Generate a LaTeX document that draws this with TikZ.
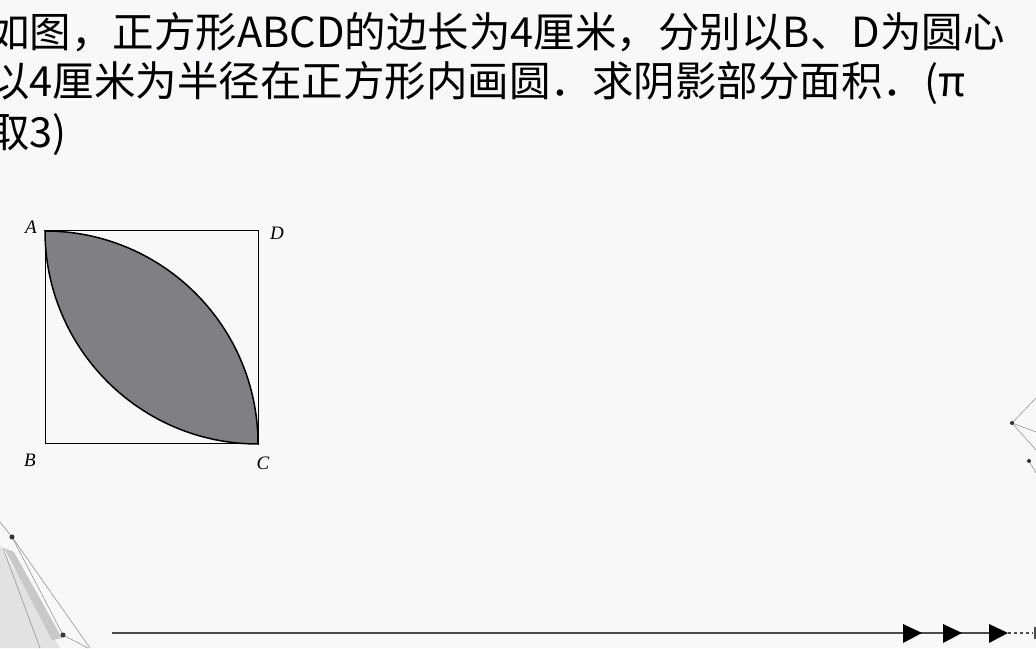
\documentclass[tikz,border=0pt]{standalone}
\usepackage{fontspec}
\setmainfont{Liberation Serif}
\newfontfamily\cjk{Noto Sans CJK SC}
\definecolor{bgc}{RGB}{248,248,250}
\definecolor{lens}{RGB}{128,127,131}
\definecolor{decoA}{RGB}{226,226,228}
\definecolor{decoB}{RGB}{200,200,203}
\definecolor{decoL}{RGB}{150,150,155}
\tikzset{
  qtext/.style={anchor=base west, inner sep=0pt, font=\cjk\fontsize{41.5}{50}\selectfont},
  vlabel/.style={inner sep=0pt, font=\fontsize{19}{19}\selectfont\itshape},
  edge/.style={draw=black, line width=1pt},
  decoline/.style={draw=decoL, line width=0.6pt},
  decodot/.style={circle, fill=black!80, inner sep=0pt, minimum size=5pt},
  tri/.style={fill=black}
}
\begin{document}
\begin{tikzpicture}[x=1pt,y=1pt]
\fill[bgc] (0,0) rectangle (1036,648);
\useasboundingbox (0,0) rectangle (1036,648);
% question text
\node[qtext] (l1) at (-12,600) {如图，正方形ABCD的边长为4厘米，分别以B、D为圆心};
\node[qtext] (l2) at (-12,551) {以4厘米为半径在正方形内画圆．求阴影部分面积．(π};
\node[qtext] (l3) at (-12,500) {取3)};
% square
\coordinate (A) at (45,417);
\coordinate (B) at (45,204);
\coordinate (C) at (258,204);
\coordinate (D) at (258,417);
\fill[lens] (A) arc[start angle=90, end angle=0, radius=213] arc[start angle=270, end angle=180, radius=213] -- cycle;
\draw[line width=1.5pt] (A) arc[start angle=90, end angle=0, radius=213] arc[start angle=270, end angle=180, radius=213] -- cycle;
\draw[edge] (A) -- (D) -- (C) -- (B) -- cycle;
\node[vlabel] (lA) at (31,421) {A};
\node[vlabel] (lD) at (277,415) {D};
\node[vlabel] (lB) at (30,188) {B};
\node[vlabel] (lC) at (263,185) {C};
% bottom-left decoration
\fill[decoA] (0,103) -- (60,0) -- (0,0) -- cycle;
\fill[decoB] (4,100) -- (14,96) -- (62,10) -- (52,8) -- cycle;
\coordinate (p1) at (12,111);
\coordinate (p2) at (63,13);
\draw[decoline] (0,126) -- (p1);
\draw[decoline] (p1) -- (90,0);
\draw[decoline] (p1) -- (p2);
\draw[decoline] (3,100) -- (40,0);
\draw[decoline] (p2) -- (88,0);
\node[decodot] (d1) at (p1) {};
\node[decodot] (d2) at (p2) {};
% right decoration
\coordinate (q1) at (1012,225);
\coordinate (q2) at (1029,187);
\draw[decoline] (q1) -- (1036,250);
\draw[decoline] (q1) -- (1036,216);
\draw[decoline] (q1) -- (1036,198);
\draw[decoline] (q2) -- (1036,175);
\node[decodot, minimum size=4pt] (e1) at (q1) {};
\node[decodot, minimum size=4pt] (e2) at (q2) {};
% bottom arrow line
\coordinate (s) at (112,15);
\coordinate (t) at (989,15);
\draw[line width=1.2pt, black!70] (s) -- (t);
\fill[tri] (903,24) -- (922,15) -- (903,5) -- cycle;
\fill[tri] (943,24) -- (962,15) -- (943,5) -- cycle;
\fill[tri] (989,24) -- (1008,15) -- (989,5) -- cycle;
\draw[line width=1.2pt, black!70, dash pattern=on 3pt off 3pt] (1008,15) -- (1033,15);
\draw[line width=1.5pt, black!70] (1035,9) -- (1035,21);
\end{tikzpicture}
\end{document}
